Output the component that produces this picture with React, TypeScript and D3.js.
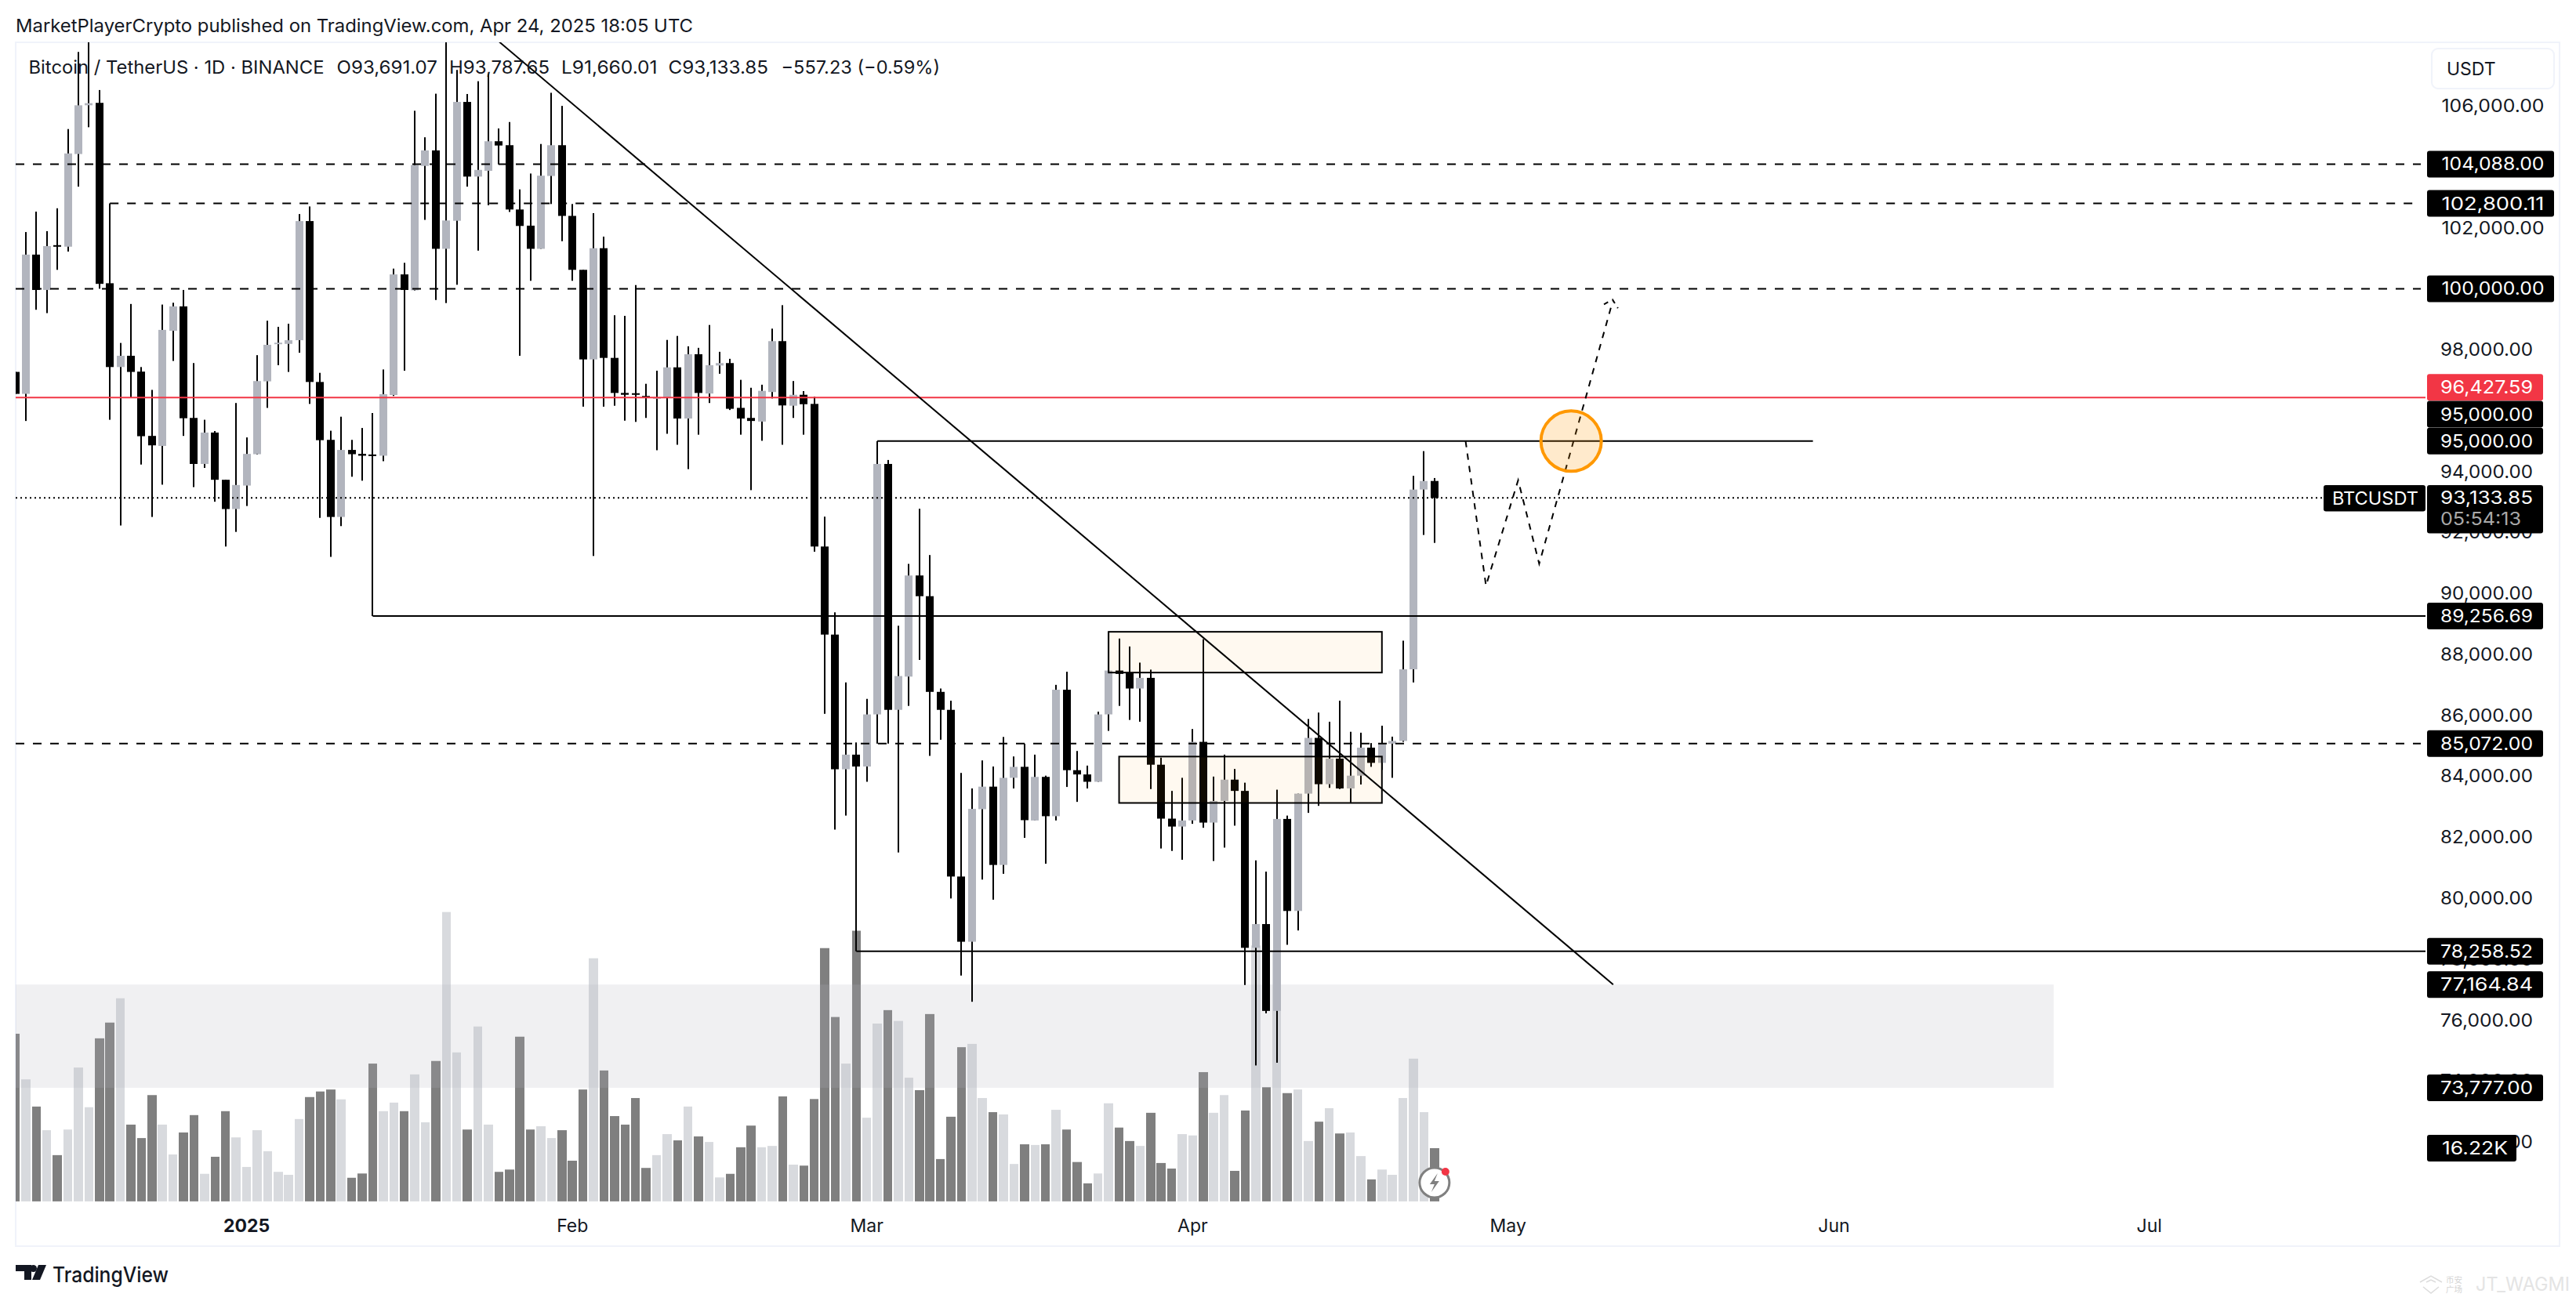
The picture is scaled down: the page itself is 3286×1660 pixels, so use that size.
import React from "react";
import * as d3 from "d3";

const startDate = new Date(Date.UTC(2024, 11, 10));

const opens = [97270,96550,101120,99960,101430,101380,104420,106020,106100,100180,
97430,97800,97280,95170,94840,98620,99420,95760,94250,95280,
93730,92770,93540,94570,96960,98180,98190,98310,102220,96940,
95040,92510,94710,94580,94560,94520,96510,100470,99950,104030,
104540,101310,102230,106130,103680,103870,104840,104710,102600,102070,
101310,103700,104710,102390,100620,97680,101330,97730,96580,96570,
96480,96400,96420,97420,95740,97850,96560,97480,97560,96090,
95760,95640,96610,98280,96160,96520,96220,91540,88650,84230,
84710,84320,86030,94250,86180,87270,90590,89910,86770,86180,
80710,78570,82920,83660,81090,83950,84310,82550,83980,82690,
86840,84200,84060,83820,86030,87470,87400,86880,87230,84380,
82610,82350,82550,85130,82480,83190,83890,83520,78370,79150,
76300,82600,79580,83430,85260,83740,84580,83600,84020,84940,
84440,85070,85160,87510,93410,93691.07];

const closes = [96550,101120,99960,101400,101380,104440,106020,106090,100160,97430,
97800,97270,95160,94860,98650,99420,95750,94250,95280,93730,
92770,93560,94580,96970,98160,98230,98310,102220,96940,95030,
92510,94710,94570,94520,94520,96540,100470,99960,104060,104540,
101310,102240,106130,103680,103900,104840,104700,102600,102060,101310,
103710,104710,102390,100620,97680,101330,97730,96580,96520,96520,
96420,96440,97420,95740,97850,96580,97490,97560,96060,95740,
95660,96650,98280,96170,96520,96210,91540,88650,84230,84710,
84320,86030,94250,86180,87290,90590,89910,86770,86180,80710,
78570,82930,83660,81090,83950,84310,82560,83980,82690,86840,
84200,84060,83820,86030,87470,87360,86880,87230,84380,82610,
82350,82550,85130,82480,83190,83890,83520,78370,79150,76300,
82600,79580,83430,85260,83740,84580,83600,84020,84940,84440,
85080,85160,87510,93410,93690,93133.85];

const highs = [97270,101860,102530,101890,102640,105240,107770,108350,106520,102800.11,
98220,99500,97430,96680,99480,99540,99960,97560,95700,95330,
93730,96250,95120,97820,98950,98750,98850,102450,102700,97240,
95340,95800,95040,95430,95920,97350,100660,100850,105840,104970,
106400,109590,107180,106390,106810,107050,105260,105470,103260,103780,
104750,106430,106000,102780,100620,102480,101710,99130,99110,100120,
96880,97310,98320,98450,98110,98060,98810,97930,97700,97010,
96750,96850,98690,99460,96970,96640,96460,92520,89380,87080,
85110,86540,95000,94380,88940,90970,92780,91260,86880,86480,
84110,83600,84520,84320,85290,84650,85070,84710,84020,87000,
87430,84830,84350,86120,88740,88520,88260,87730,87500,84610,
83520,83950,85550,88500,83990,84710,84240,83790,81240,80870,
83560,82710,83430,85880,86090,85790,86480,85460,85430,85090,
85660,85300,88450,93860,94670,93787.65];

const lows = [96550,95660,99310,99200,100620,101220,103350,105300,100000,95700,
92230,96420,94230,92510,93570,97630,95170,93490,94120,93010,
91540,92020,92870,94560,96090,97490,97270,97900,96220,92480,
91200,92210,93830,93700,89256.69,94340,96480,97310,99940,102260,
99630,99530,100130,103350,101250,102740,104080,102520,97800,100260,
101310,102780,101560,100260,96130,91230,96130,96160,95670,95630,
95760,94700,95240,94880,94080,95210,96250,97210,96020,95210,
93390,95010,96400,94880,95760,95210,91370,86050,82250,82710,
78258.52,83820,85072,85072,81500,86310,87820,84670,85200,79990,
77460,76600,80610,79950,80800,83600,81980,82550,81130,82550,
83650,83160,83600,83820,85490,86310,85850,85790,83580,81630,
81550,81260,82440,82310,81220,81660,82380,77150,74510,76220,
74600,78470,78940,82800,83030,83620,83580,83130,83730,84310,
84210,83950,85130,87080,91920,91660.01];

const volumes = [51.1,37.2,28.9,21.7,14.1,21.9,40.8,28.7,49.7,54.5,
61.9,23.4,19.3,32.4,23.4,14.3,21.0,26.3,8.4,13.6,
27.5,19.5,10.5,21.7,15.3,9.0,8.1,25.1,31.8,33.5,
34.1,31.1,7.2,8.5,42.0,27.5,30.1,27.5,38.7,24.1,
42.8,88.2,45.4,21.9,53.3,23.4,9.0,9.7,50.2,21.9,
22.9,19.3,21.7,12.4,34.1,74.1,39.9,26.0,23.4,31.5,
10.2,14.1,20.5,18.6,28.9,19.8,18.1,7.3,8.4,16.5,
23.1,16.5,16.9,32.0,11.2,10.9,31.2,77.2,56.2,42.0,
82.5,25.5,54.2,58.3,55.0,37.7,33.9,57.1,12.9,25.8,
47.0,48.0,31.5,27.2,26.5,11.4,17.4,17.2,17.4,27.9,
21.9,12.0,5.5,8.5,29.9,22.5,18.4,16.9,27.0,11.7,
10.0,20.5,20.1,39.4,27.0,32.4,9.3,27.7,78.0,34.8,
76.0,33.0,34.1,18.4,24.3,28.4,20.7,21.0,13.8,6.7,
9.7,8.1,31.5,43.5,27.2,16.22];

const priceTicks = d3.range(72000, 106001, 2000);
const monthTicks = [
  { label: "2025", date: new Date(Date.UTC(2025, 0, 1)), bold: true },
  { label: "Feb", date: new Date(Date.UTC(2025, 1, 1)), bold: false },
  { label: "Mar", date: new Date(Date.UTC(2025, 2, 1)), bold: false },
  { label: "Apr", date: new Date(Date.UTC(2025, 3, 1)), bold: false },
  { label: "May", date: new Date(Date.UTC(2025, 4, 1)), bold: false },
  { label: "Jun", date: new Date(Date.UTC(2025, 5, 1)), bold: false },
  { label: "Jul", date: new Date(Date.UTC(2025, 6, 1)), bold: false },
];

// [price, start candle index or null for the pane edge, end at label]
const dashedLevels = [
  { price: 104088, from: null },
  { price: 102800.11, from: 9 },
  { price: 100000, from: null },
  { price: 85072, from: null },
];
const solidLevels = [
  { price: 89256.69, from: 34 },
  { price: 78258.52, from: 80 },
];

const resistance = 95000;
const resistanceFrom = 82;
const resistanceTo = 171;
const redLevel = 96427.59;
const lastPrice = 93133.85;

const zoneBand = { i0: -2, i1: 193.9, top: 77164.84, bottom: 73777 };
const boxes = [
  { i0: 104, i1: 130, top: 88741, bottom: 87403 },
  { i0: 105, i1: 130, top: 84647, bottom: 83125 },
];
const trendLine: [number, number][] = [[46.05, 108097], [152, 77164.84]];
const forecast: [number, number][] = [[137.96, 95000], [139.9, 90255], [142.96, 93717], [144.96, 90975], [151.94, 99573]];
const forecastHead: [number, number][] = [[151.12, 99488], [151.94, 99640], [152.45, 99360]];
const circleAt = { i: 148, price: 95000 };

// label, price centre as displayed, text colour handled by kind
const priceBadges = [
  { text: "104,088.00", at: 104088, wide: true, bg: "#000" },
  { text: "102,800.11", at: 102800.11, wide: true, bg: "#000" },
  { text: "100,000.00", at: 100000, wide: true, bg: "#000" },
  { text: "96,427.59", at: 96760, wide: false, bg: "#f23645" },
  { text: "95,000.00", at: 95880, wide: false, bg: "#000" },
  { text: "95,000.00", at: 95000, wide: false, bg: "#000" },
  { text: "89,256.69", at: 89256.69, wide: false, bg: "#000" },
  { text: "85,072.00", at: 85072, wide: false, bg: "#000" },
  { text: "78,258.52", at: 78258.52, wide: false, bg: "#000" },
  { text: "77,164.84", at: 77164.84, wide: false, bg: "#000" },
  { text: "73,777.00", at: 73777, wide: false, bg: "#000" },
];

const legendParts = [
  { text: "Bitcoin / TetherUS · 1D · BINANCE", x: 36.5, w: 377 },
  { text: "O93,691.07", x: 429.5, w: 128.5 },
  { text: "H93,787.65", x: 573, w: 128 },
  { text: "L91,660.01", x: 716, w: 122.5 },
  { text: "C93,133.85", x: 852.6, w: 127.5 },
  { text: "−557.23 (−0.59%)", x: 996.5, w: 202.5 },
];

const W = 3286;
const H = 1660;
const pane = { left: 20, top: 54, right: 3265, bottom: 1590, plotRight: 3096 };
const FONT = "Inter, 'Noto Sans', sans-serif";
const INK = "#131722";

const x = d3.scaleLinear().domain([0, 135]).range([19.5, 19.5 + 135 * 13.41]);
const y = d3.scaleLinear().domain([100000, 76000]).range([368.4, 368.4 + 24000 * 0.03888]);
const volY = d3.scaleLinear().domain([0, 16.22]).range([1532.9, 1532.9 - 67.9]);
const dayIndex = (d: Date) => d3.utcDay.count(startDate, d);

const linePath = d3.line<[number, number]>().x((d) => x(d[0])).y((d) => y(d[1]));

export default function App() {
  const n = opens.length;
  const idx = d3.range(n);
  const up = (i: number) => closes[i] >= opens[i];
  return (
    <svg
      width={W}
      height={H}
      viewBox={`0 0 ${W} ${H}`}
      style={{ position: "absolute", left: 0, top: 0, display: "block", background: "#fff" }}
      fontFamily={FONT}
    >
      <defs>
        <clipPath id="plot">
          <rect x={pane.left} y={pane.top} width={pane.plotRight - pane.left} height={pane.bottom - pane.top} />
        </clipPath>
      </defs>

      <rect x={0} y={0} width={W} height={H} fill="#fff" />
      <rect
        x={pane.left}
        y={pane.top}
        width={pane.right - pane.left}
        height={pane.bottom - pane.top}
        fill="#fff"
        stroke="#f0f3fa"
        strokeWidth={2}
      />

      <text x={20} y={32} fontSize={23.4} fill={INK} dominantBaseline="central" textLength={864} lengthAdjust="spacingAndGlyphs">
        MarketPlayerCrypto published on TradingView.com, Apr 24, 2025 18:05 UTC
      </text>

      {/* volume */}
      <g clipPath="url(#plot)">
        {idx.map((i) => {
          const l = Math.round(x(i) - 5.75);
          const r = Math.round(x(i) + 5.75);
          return (
            <rect
              key={i}
              x={l}
              y={volY(volumes[i])}
              width={r - l}
              height={volY(0) - volY(volumes[i])}
              fill={up(i) ? "rgba(178,181,190,0.5)" : "rgba(0,0,0,0.5)"}
            />
          );
        })}
        {/* zone band */}
        <rect
          x={x(zoneBand.i0)}
          y={y(zoneBand.top)}
          width={x(zoneBand.i1) - x(zoneBand.i0)}
          height={y(zoneBand.bottom) - y(zoneBand.top)}
          fill="rgba(178,181,190,0.2)"
        />

        {/* candles */}
        {idx.map((i) => {
          const c = Math.round(x(i));
          const col = up(i) ? "#b2b5be" : "#000";
          const t = y(Math.max(opens[i], closes[i]));
          const b = y(Math.min(opens[i], closes[i]));
          return (
            <g key={i}>
              <rect x={c - 1} y={y(highs[i])} width={2} height={Math.max(0, y(lows[i]) - y(highs[i]))} fill={col === "#000" ? "#000" : "#000"} />
              <rect x={c - 5} y={t} width={10} height={Math.max(2, b - t)} fill={col} />
            </g>
          );
        })}

        {/* horizontal levels */}
        <line x1={pane.left} x2={pane.plotRight} y1={y(lastPrice)} y2={y(lastPrice)} stroke="#000" strokeWidth={2} strokeDasharray="2 4" />
        {dashedLevels.map((d, i) => (
          <line
            key={i}
            x1={d.from === null ? pane.left : x(d.from)}
            x2={3088}
            y1={y(d.price)}
            y2={y(d.price)}
            stroke="#000"
            strokeWidth={2}
            strokeDasharray="11 11"
          />
        ))}
        {solidLevels.map((d, i) => (
          <line key={i} x1={x(d.from)} x2={3094} y1={y(d.price)} y2={y(d.price)} stroke="#000" strokeWidth={2} />
        ))}
        <line x1={pane.left} x2={3094} y1={y(redLevel)} y2={y(redLevel)} stroke="#f23645" strokeWidth={2} />
        <line x1={x(resistanceFrom)} x2={x(resistanceTo)} y1={y(resistance)} y2={y(resistance)} stroke="#000" strokeWidth={2} />

        {/* boxes */}
        {boxes.map((b, i) => (
          <rect
            key={i}
            x={x(b.i0)}
            y={y(b.top)}
            width={x(b.i1) - x(b.i0)}
            height={y(b.bottom) - y(b.top)}
            fill="rgba(255,152,0,0.06)"
            stroke="#000"
            strokeWidth={2}
          />
        ))}

        {/* trend line */}
        <path d={linePath(trendLine) ?? ""} fill="none" stroke="#000" strokeWidth={2} />

        {/* forecast */}
        <path d={linePath(forecast) ?? ""} fill="none" stroke="#000" strokeWidth={2} strokeDasharray="8 8" />
        <path d={linePath(forecastHead) ?? ""} fill="none" stroke="#000" strokeWidth={2} strokeDasharray="6 6" />
        <circle cx={x(circleAt.i)} cy={y(circleAt.price)} r={38.5} fill="rgba(255,152,0,0.2)" stroke="#ff9800" strokeWidth={4} />
      </g>

      {/* legend */}
      {legendParts.map((p, i) => (
        <text key={i} x={p.x} y={86} fontSize={23} fill={INK} dominantBaseline="central" textLength={p.w} lengthAdjust="spacingAndGlyphs">
          {p.text}
        </text>
      ))}

      {/* USDT button */}
      <rect x={3102} y={62} width={156} height={51} rx={8} fill="#fff" stroke="#f0f3fa" strokeWidth={2} />
      <text x={3121} y={88} fontSize={23} fill={INK} dominantBaseline="central">USDT</text>

      {/* price ticks */}
      {priceTicks.map((p) => {
        const s = d3.format(",.2f")(p);
        return (
          <text
            key={p}
            x={p >= 100000 ? 3114.5 : 3113}
            y={y(p)}
            fontSize={23}
            fill={INK}
            dominantBaseline="central"
            textLength={p >= 100000 ? 131 : 118}
            lengthAdjust="spacingAndGlyphs"
          >
            {s}
          </text>
        );
      })}

      {/* price badges */}
      {priceBadges.map((b, i) => (
        <g key={i}>
          <rect x={3096} y={y(b.at) - 17} width={b.wide ? 162 : 148} height={34} rx={3} fill={b.bg} />
          <text
            x={b.wide ? 3114.5 : 3113}
            y={y(b.at)}
            fontSize={23}
            fill="#fff"
            dominantBaseline="central"
            textLength={b.wide ? 131 : 118}
            lengthAdjust="spacingAndGlyphs"
          >
            {b.text}
          </text>
        </g>
      ))}

      {/* last price */}
      <rect x={2964} y={619} width={130} height={33.5} rx={3} fill="#000" />
      <text x={2975} y={635.5} fontSize={23} fill="#fff" dominantBaseline="central" textLength={110} lengthAdjust="spacingAndGlyphs">BTCUSDT</text>
      <rect x={3096} y={619} width={148} height={61.5} rx={3} fill="#000" />
      <text x={3113} y={y(lastPrice)} fontSize={23} fill="#fff" dominantBaseline="central" textLength={118} lengthAdjust="spacingAndGlyphs">93,133.85</text>
      <text x={3113} y={662} fontSize={23} fill="#a9a9a9" dominantBaseline="central" textLength={103} lengthAdjust="spacingAndGlyphs">05:54:13</text>

      {/* volume badge */}
      <rect x={3096} y={1448} width={114} height={34} rx={3} fill="#000" />
      <text x={3115} y={1465} fontSize={23} fill="#fff" dominantBaseline="central" textLength={84} lengthAdjust="spacingAndGlyphs">16.22K</text>

      {/* time axis */}
      {monthTicks.map((t) => (
        <text
          key={t.label}
          x={x(dayIndex(t.date))}
          y={1564}
          fontSize={23}
          fontWeight={t.bold ? 700 : 400}
          fill={INK}
          textAnchor="middle"
          dominantBaseline="central"
        >
          {t.label}
        </text>
      ))}

      {/* lightning marker */}
      <g transform={`translate(${x(135)},1509)`}>
        <circle r={19} fill="#fff" stroke="#808080" strokeWidth={3} />
        <path d="M4 -12 L-6 2 L0 2 L-4 12 L6 -2 L0 -2 Z" fill="#808080" />
        <circle cx={14} cy={-14} r={5} fill="#f23645" />
      </g>

      {/* TradingView logo */}
      <g fill="#131722">
        <path d="M20 1614 H40 V1633 H31 V1622 H20 Z" />
        <circle cx={42.5} cy={1618.5} r={4.5} />
        <path d="M49 1614 H59 L51 1633 H41 Z" />
      </g>
      <text x={67} y={1626} fontSize={27} fontWeight={500} fill={INK} dominantBaseline="central" textLength={148} lengthAdjust="spacingAndGlyphs">TradingView</text>

      {/* watermark */}
      <g fill="none" stroke="#dcdcdc" strokeWidth={1.5}>
        <path d="M3087 1636 L3101 1628 L3115 1636" />
        <path d="M3095 1636 L3101 1633 L3107 1636" />
        <path d="M3091 1642 L3101 1650 L3111 1642" />
      </g>
      <text x={3120} y={1632} fontSize={10.5} fill="#d4d4d4" fontFamily="'Noto Sans CJK SC'" dominantBaseline="central">币安</text>
      <text x={3120} y={1644} fontSize={10.5} fill="#d4d4d4" fontFamily="'Noto Sans CJK SC'" dominantBaseline="central">广场</text>
      <text x={3158} y={1638} fontSize={24} fill="#e4e4e4" dominantBaseline="central" textLength={120} lengthAdjust="spacingAndGlyphs">JT_WAGMI</text>
    </svg>
  );
}
